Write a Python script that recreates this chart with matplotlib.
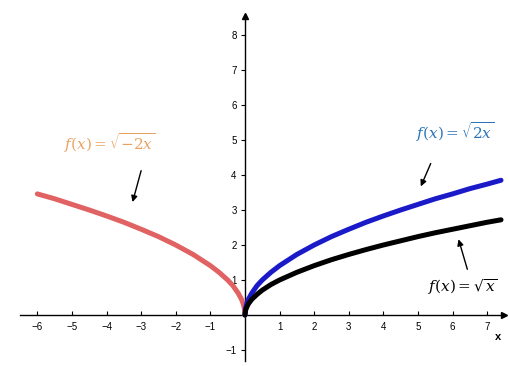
import matplotlib
matplotlib.use("Agg")
import matplotlib.pyplot as plt

# Curve samples
x_pos = [0, 0.02, 0.05, 0.1, 0.2, 0.35, 0.5, 0.75, 1, 1.5, 2, 2.5, 3, 3.5, 4, 4.5, 5, 5.5, 6, 6.5, 7, 7.4]
y_sqrt_x = [0, 0.14, 0.22, 0.32, 0.45, 0.59, 0.71, 0.87, 1.0, 1.22, 1.41, 1.58, 1.73, 1.87, 2.0, 2.12, 2.24, 2.35, 2.45, 2.55, 2.65, 2.72]
y_sqrt_2x = [0, 0.2, 0.32, 0.45, 0.63, 0.84, 1.0, 1.22, 1.41, 1.73, 2.0, 2.24, 2.45, 2.65, 2.83, 3.0, 3.16, 3.32, 3.46, 3.61, 3.74, 3.85]
x_neg = [0, -0.02, -0.05, -0.1, -0.2, -0.35, -0.5, -0.75, -1, -1.5, -2, -2.5, -3, -3.5, -4, -4.5, -5, -5.5, -6]
y_sqrt_m2x = [0, 0.2, 0.32, 0.45, 0.63, 0.84, 1.0, 1.22, 1.41, 1.73, 2.0, 2.24, 2.45, 2.65, 2.83, 3.0, 3.16, 3.32, 3.46]

x_ticks = [-6, -5, -4, -3, -2, -1, 1, 2, 3, 4, 5, 6, 7]
y_ticks = [-1, 1, 2, 3, 4, 5, 6, 7, 8]

labels = [r'$f(x)=\sqrt{-2x}$', r'$f(x)=\sqrt{2x}$', r'$f(x)=\sqrt{x}$']

plt.rcParams['mathtext.fontset'] = 'dejavuserif'
plt.rcParams['font.family'] = ['Liberation Sans', 'DejaVu Sans']

fig = plt.figure(figsize=(5.1, 3.66), dpi=100)
ax = fig.add_axes([0, 0, 1, 1])
ax.set_xlim(-7.08, 7.66)
ax.set_ylim(-1.457, 9.0)

for s in ['top', 'right']:
    ax.spines[s].set_visible(False)
ax.spines['left'].set_position(('data', 0))
ax.spines['bottom'].set_position(('data', 0))
ax.spines['bottom'].set_bounds(-6.5, 7.45)
ax.spines['left'].set_bounds(-1.3, 8.45)
ax.spines['left'].set_linewidth(1.0)
ax.spines['bottom'].set_linewidth(1.0)
ax.plot([7.5], [0], marker='>', color='black', markersize=4, clip_on=False)
ax.plot([0], [8.55], marker='^', color='black', markersize=4, clip_on=False)

ax.set_xticks(x_ticks)
ax.set_xticklabels([str(t).replace('-', '\u2212') for t in x_ticks])
ax.set_yticks(y_ticks)
ax.set_yticklabels([str(t).replace('-', '\u2212') for t in y_ticks])
ax.tick_params(axis='x', direction='in', length=3, labelsize=7, pad=5)
ax.tick_params(axis='y', direction='out', length=3, labelsize=7, pad=3)

ax.text(7.32, -0.62, 'x', fontsize=8, fontweight='bold', ha='center', va='center')

ax.plot(x_neg, y_sqrt_m2x, color='#E06262', lw=3.6, solid_capstyle='round', zorder=3)
ax.plot(x_pos, y_sqrt_2x, color='#1A1AC8', lw=3.6, solid_capstyle='round', zorder=3)
ax.plot(x_pos, y_sqrt_x, color='black', lw=3.6, solid_capstyle='round', zorder=3)

ax.text(-3.9, 4.92, labels[0], color='#E8A263', fontsize=11, ha='center', va='center')
ax.text(6.07, 5.23, labels[1], color='#2B74B8', fontsize=11, ha='center', va='center')
ax.text(6.3, 0.8, labels[2], color='black', fontsize=11, ha='center', va='center')

arrow = dict(arrowstyle='-|>', color='black', lw=1.0, mutation_scale=9)
ax.annotate('', xy=(-3.27, 3.15), xytext=(-2.98, 4.2), arrowprops=arrow)
ax.annotate('', xy=(5.05, 3.6), xytext=(5.4, 4.4), arrowprops=arrow)
ax.annotate('', xy=(6.15, 2.24), xytext=(6.45, 1.23), arrowprops=arrow)

fig.savefig('out.png', dpi=100)
